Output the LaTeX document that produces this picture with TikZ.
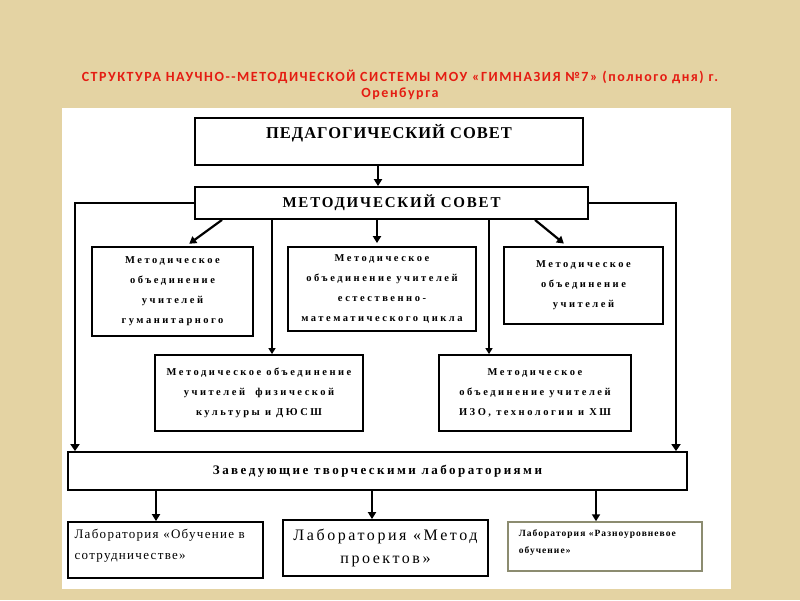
\documentclass[tikz,border=0pt]{standalone}
\usepackage{fontspec}
\setmainfont{Liberation Serif}
\newfontfamily\titlefont{Carlito}
\usetikzlibrary{arrows.meta}
\definecolor{bgtan}{RGB}{228,211,163}
\definecolor{titlered}{RGB}{228,28,18}
\definecolor{olivegray}{RGB}{140,140,112}
\newcommand\boxfont{\fontsize{10.5}{20}\selectfont\bfseries\addfontfeature{LetterSpace=24}}
\newcommand\pedfont{\fontsize{16.5}{20}\selectfont\bfseries\addfontfeature{LetterSpace=6}}
\newcommand\msfont{\fontsize{15}{20}\selectfont\bfseries\addfontfeature{LetterSpace=12}}
\newcommand\labsfont{\fontsize{13}{20}\selectfont\bfseries\addfontfeature{LetterSpace=19}}
\newcommand\laba{\fontsize{13}{21}\selectfont\addfontfeature{LetterSpace=10}}
\newcommand\labb{\fontsize{16}{23}\selectfont\addfontfeature{LetterSpace=16}}
\newcommand\labc{\fontsize{9.5}{17}\selectfont\bfseries\addfontfeature{LetterSpace=11}}
\newcommand\ttlfont{\titlefont\bfseries\fontsize{14}{16}\selectfont\addfontfeature{LetterSpace=11}}
\begin{document}
\begin{tikzpicture}[x=1pt,y=-1pt,
  box/.style={draw=black, line width=1.8pt, fill=white, inner sep=0pt, align=center},
  arr/.style={line width=2.2pt, -{Triangle[width=8pt,length=7pt]}},
  thinarr/.style={line width=1.3pt, -{Triangle[width=7pt,length=6pt]}},
  thick/.style={line width=2.8pt, -{Triangle[width=9pt,length=7pt]}}
 ]
\useasboundingbox (0,0) rectangle (800,600);
\fill[bgtan] (0,0) rectangle (800,600);
\fill[white] (62,108) rectangle (731,589);

\node[align=center, text=titlered, font=\ttlfont] (title) at (400,85)
  {СТРУКТУРА НАУЧНО--МЕТОДИЧЕСКОЙ СИСТЕМЫ МОУ «ГИМНАЗИЯ №7» (полного дня) г.\\Оренбурга};

% coordinates for connector x positions
\coordinate (xa) at (378,0);
\coordinate (xL) at (75,0);
\coordinate (xR) at (676,0);
\coordinate (xf) at (272,0);
\coordinate (xi) at (489,0);
\coordinate (xd1) at (222,0);
\coordinate (xd2) at (186,0);
\coordinate (xm) at (377,0);
\coordinate (xd3) at (535,0);
\coordinate (xd4) at (567,0);
\coordinate (xl1) at (156,0);
\coordinate (xl2) at (372,0);
\coordinate (xl3) at (596,0);

\node[box, minimum width=388pt, minimum height=47pt,
  label={[yshift=8.5pt, font=\pedfont]center:ПЕДАГОГИЧЕСКИЙ СОВЕТ}] (ped) at (389,141.5) {};
\node[box, minimum width=393pt, minimum height=32pt, font=\msfont] (ms) at (391.5,203) {МЕТОДИЧЕСКИЙ СОВЕТ};

\node[box, minimum width=161pt, minimum height=89pt, font=\boxfont] (hum) at (172.5,291.5)
  {Методическое\\объединение\\учителей\\гуманитарного};
\node[box, minimum width=188pt, minimum height=84pt, font=\boxfont] (nat) at (382,289)
  {Методическое\\объединение учителей\\естественно-\\математического цикла};
\node[box, minimum width=159pt, minimum height=77pt, font=\boxfont] (rt) at (583.5,285.5)
  {Методическое\\объединение\\учителей};
\node[box, minimum width=208pt, minimum height=76pt, font=\boxfont] (fiz) at (259,393)
  {Методическое объединение\\учителей\ \ физической\\культуры и ДЮСШ};
\node[box, minimum width=192pt, minimum height=76pt, font=\boxfont] (izo) at (535,393)
  {Методическое\\объединение учителей\\ИЗО, технологии и ХШ};

\node[box, minimum width=619pt, minimum height=38pt, font=\labsfont] (labs) at (377.5,471)
  {Заведующие творческими лабораториями};

\node[box, minimum width=195pt, minimum height=56pt,
  label={[anchor=north west, xshift=4pt, yshift=-5pt, align=left, font=\laba]north west:Лаборатория «Обучение в\\сотрудничестве»}] (l1) at (165.5,550) {};
\node[box, minimum width=205pt, minimum height=56pt, font=\labb] (l2) at (385.5,548)
  {Лаборатория «Метод\\проектов»};
\node[box, draw=olivegray, line width=1.5pt, minimum width=194pt, minimum height=49pt,
  label={[anchor=north west, xshift=8pt, yshift=-5pt, align=left, font=\labc]north west:Лаборатория «Разноуровневое\\обучение»}] (l3) at (605,546.5) {};

% connectors
\draw[arr] (ped.south -| xa) -- (ms.north -| xa);
\draw[thick] (ms.west) -| (labs.north -| xL);
\draw[thick] (ms.east) -| (labs.north -| xR);
\draw[thinarr] (ms.south -| xf) -- (fiz.north -| xf);
\draw[thinarr] (ms.south -| xi) -- (izo.north -| xi);
\draw[arr, shorten >=4pt] (ms.south -| xd1) -- (hum.north -| xd2);
\draw[arr, shorten >=3pt] (ms.south -| xm) -- (nat.north -| xm);
\draw[arr, shorten >=4pt] (ms.south -| xd3) -- (rt.north -| xd4);
\draw[arr] (labs.south -| xl1) -- (l1.north -| xl1);
\draw[arr] (labs.south -| xl2) -- (l2.north -| xl2);
\draw[arr] (labs.south -| xl3) -- (l3.north -| xl3);
\end{tikzpicture}
\end{document}
